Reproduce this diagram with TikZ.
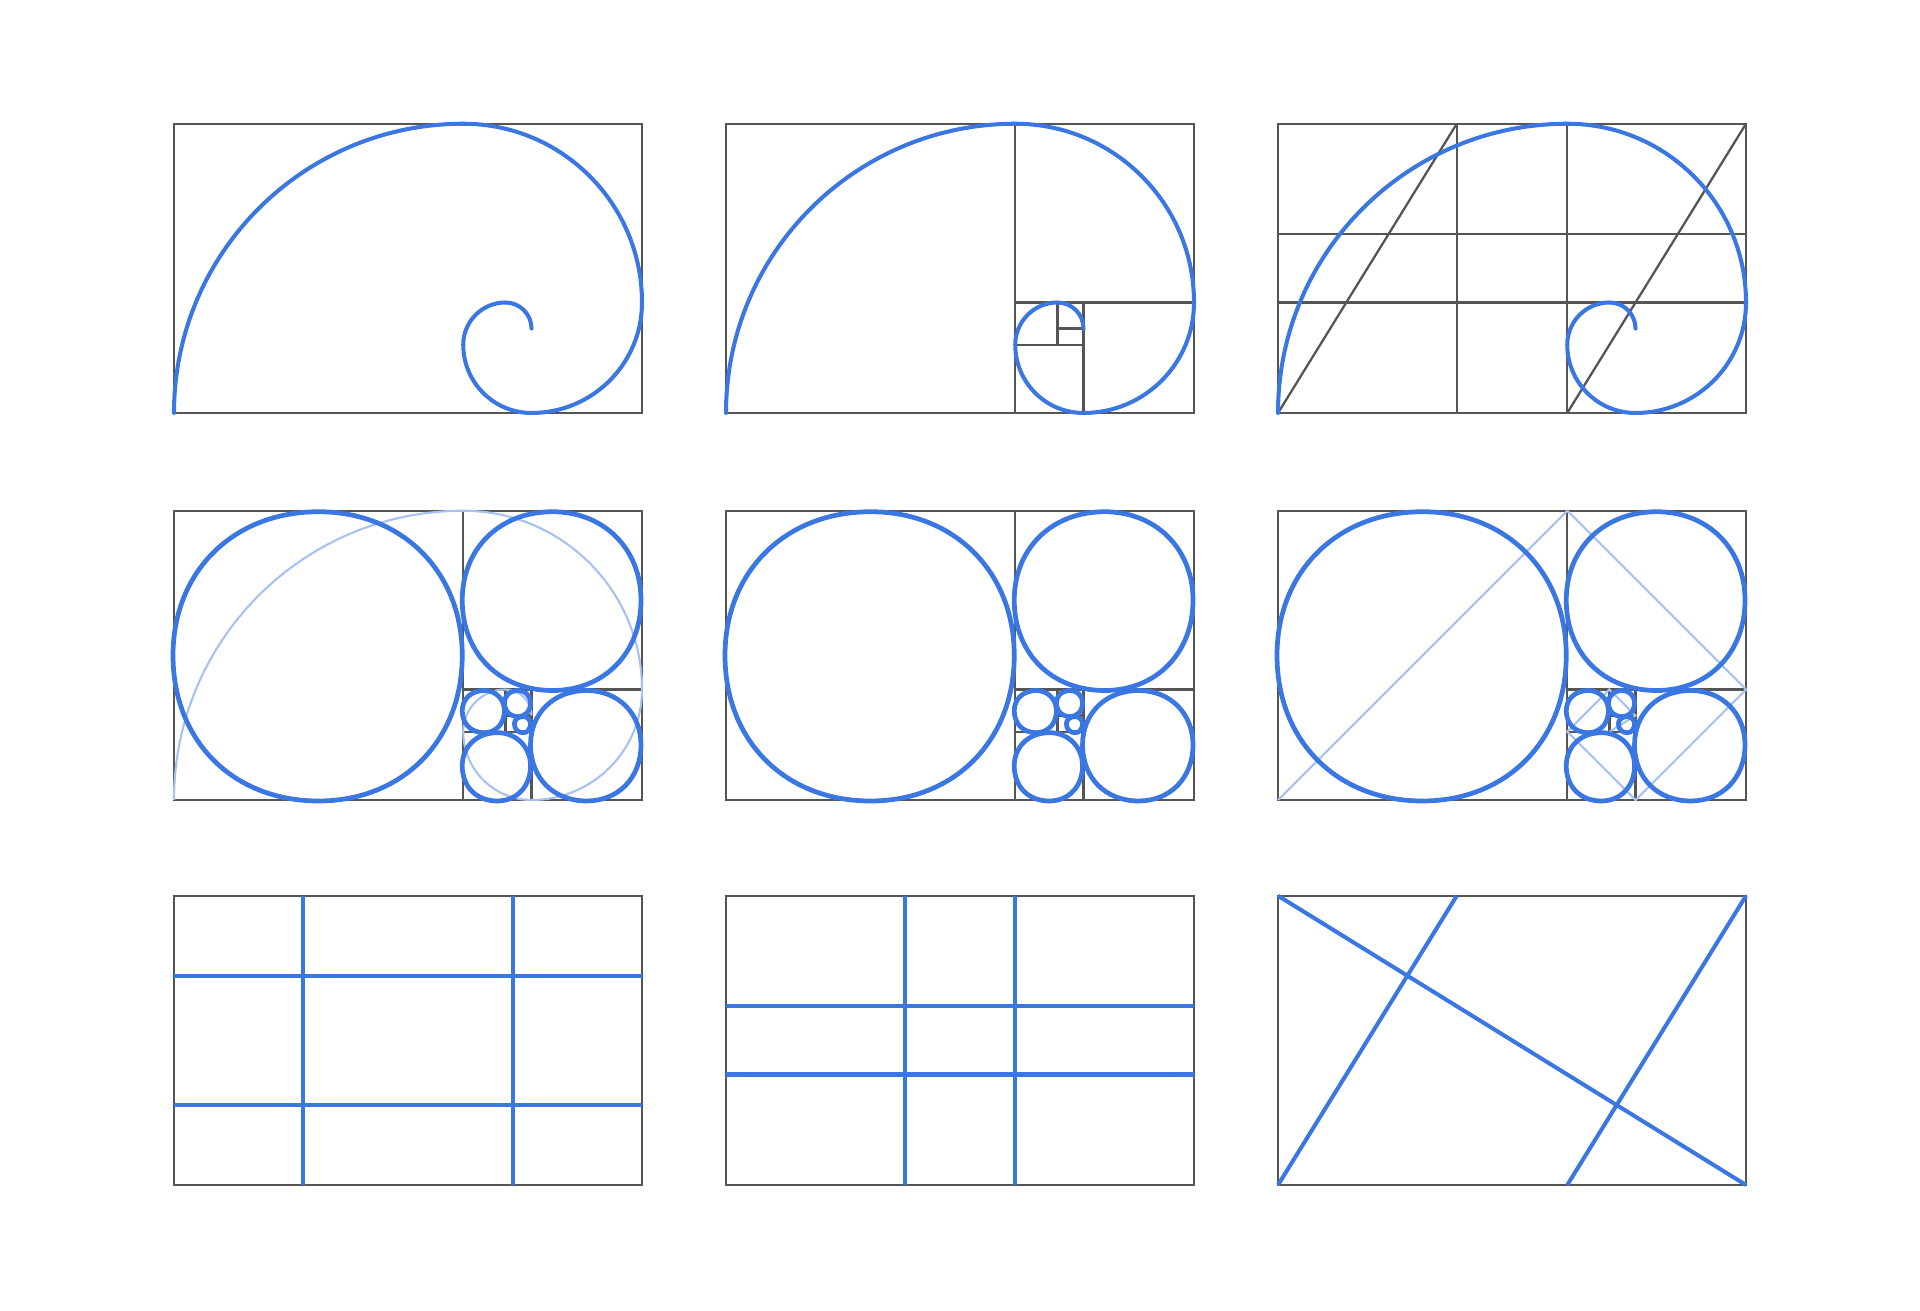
\documentclass[tikz,border=0pt]{standalone}
\usepackage{tikz}

\definecolor{azul}{HTML}{3B77E2}
\definecolor{azulclaro}{HTML}{A8C2F0}
\definecolor{gris}{HTML}{555555}

% lados de los cuadrados aureos (en cm)
\def\W{4.68}
\pgfmathsetmacro{\aA}{\W/1.618034}
\pgfmathsetmacro{\aB}{\W-\aA}
\pgfmathsetmacro{\aC}{\aA-\aB}
\pgfmathsetmacro{\aD}{\aB-\aC}
\pgfmathsetmacro{\aE}{\aC-\aD}
\pgfmathsetmacro{\aF}{\aD-\aE}
\pgfmathsetmacro{\aG}{\aE-\aF}
\pgfmathsetmacro{\aT}{\W/(2+1.618034)}
\pgfmathsetmacro{\hT}{\aA/(2+1.618034)}

\newcommand{\marco}{\draw[marco] (0,0) rectangle (\W,\aA);}
\newcommand{\espiral}[1]{\draw[#1] (0,0)
  arc[start angle=180, end angle=90, radius=\aA]
  arc[start angle=90, end angle=0, radius=\aB]
  arc[start angle=0, end angle=-90, radius=\aC]
  arc[start angle=-90, end angle=-180, radius=\aD]
  arc[start angle=180, end angle=90, radius=\aE]
  arc[start angle=90, end angle=0, radius=\aF];}
\newcommand{\cuadros}{\draw[marco] (\aA,0) -- (\aA,\aA)
  (\aA,\aC) -- (\W,\aC)
  ({\aA+\aD},0) -- ({\aA+\aD},\aC)
  (\aA,\aD) -- ({\aA+\aD},\aD)
  ({\aA+\aE},\aD) -- ({\aA+\aE},\aC)
  ({\aA+\aE},{\aC-\aF}) -- ({\aA+\aD},{\aC-\aF});}
% circulo algo cuadrado: centro x, centro y, radio
\newcommand{\redondo}[3]{\draw[circulo] ({#1+#3},{#2})
  .. controls +(0,{0.585*#3}) and +({0.585*#3},0) .. ({#1},{#2+#3})
  .. controls +({-0.585*#3},0) and +(0,{0.585*#3}) .. ({#1-#3},{#2})
  .. controls +(0,{-0.585*#3}) and +({-0.585*#3},0) .. ({#1},{#2-#3})
  .. controls +({0.585*#3},0) and +(0,{-0.585*#3}) .. cycle;}
\newcommand{\circulos}{%
  \redondo{\aA/2}{\aA/2}{\aA/2-0.01}
  \redondo{\aA+\aB/2}{\aC+\aB/2}{\aB/2-0.01}
  \redondo{\W-\aC/2}{\aC/2}{\aC/2-0.01}
  \redondo{\aA+\aD/2}{\aD/2}{\aD/2-0.01}
  \redondo{\aA+\aE/2}{\aD+\aE/2}{\aE/2-0.01}
  \redondo{\aA+\aE+\aF/2}{\aC-\aF/2}{\aF/2-0.01}
  \redondo{\aA+\aD-\aG/2}{\aD+\aG/2}{\aG/2-0.01}}

\begin{document}
\begin{tikzpicture}[
  marco/.style={draw=gris, line width=0.65pt},
  espiral/.style={draw=azul, line width=1.15pt, line cap=round},
  tenue/.style={draw=azulclaro, line width=0.6pt},
  circulo/.style={draw=azul, line width=1.35pt},
  guia/.style={draw=azul, line width=1.15pt}]
  \useasboundingbox (0,0) rectangle (19.2,13.11);

  % Fila 1: espiral sola
  \begin{scope}[shift={(1.74,8.98)}]
    \marco
    \espiral{espiral}
  \end{scope}

  % Fila 1: espiral con sus cuadrados
  \begin{scope}[shift={(7.26,8.98)}]
    \marco
    \cuadros
    \espiral{espiral}
  \end{scope}

  % Fila 1: rejilla aurea y diagonales
  \begin{scope}[shift={(12.78,8.98)}]
    \marco
    \draw[marco] (\aB,0) -- (\aB,\aA) (\aA,0) -- (\aA,\aA)
      (0,\aC) -- (\W,\aC) (0,\aB) -- (\W,\aB);
    \draw[marco] (0,0) -- (\aB,\aA) (\aA,0) -- (\W,\aA);
    \espiral{espiral}
  \end{scope}

  % Fila 2: circulos con espiral tenue
  \begin{scope}[shift={(1.74,5.11)}]
    \marco
    \cuadros
    \espiral{tenue}
    \circulos
  \end{scope}

  % Fila 2: circulos
  \begin{scope}[shift={(7.26,5.11)}]
    \marco
    \cuadros
    \circulos
  \end{scope}

  % Fila 2: circulos con diagonales
  \begin{scope}[shift={(12.78,5.11)}]
    \marco
    \cuadros
    \draw[tenue] (0,0) -- (\aA,\aA) -- (\W,\aC) -- ({\aA+\aD},0) -- (\aA,\aD)
      -- ({\aA+\aE},\aC) -- ({\aA+\aD},{\aC-\aF}) -- ({\aA+\aE},\aD);
    \circulos
  \end{scope}

  % Fila 3: rejilla 1 : phi : 1
  \begin{scope}[shift={(1.74,1.26)}]
    \marco
    \draw[guia] (\aT,0) -- (\aT,\aA) ({\W-\aT},0) -- ({\W-\aT},\aA)
      (0,\hT) -- (\W,\hT) (0,{\aA-\hT}) -- (\W,{\aA-\hT});
  \end{scope}

  % Fila 3: rejilla aurea
  \begin{scope}[shift={(7.26,1.26)}]
    \marco
    \draw[guia] (\aB,0) -- (\aB,\aA) (\aA,0) -- (\aA,\aA)
      (0,\aC) -- (\W,\aC) (0,\aB) -- (\W,\aB);
  \end{scope}

  % Fila 3: triangulos aureos
  \begin{scope}[shift={(12.78,1.26)}]
    \marco
    \draw[guia] (0,\aA) -- (\W,0) (0,0) -- (\aB,\aA) (\aA,0) -- (\W,\aA);
  \end{scope}
\end{tikzpicture}
\end{document}
